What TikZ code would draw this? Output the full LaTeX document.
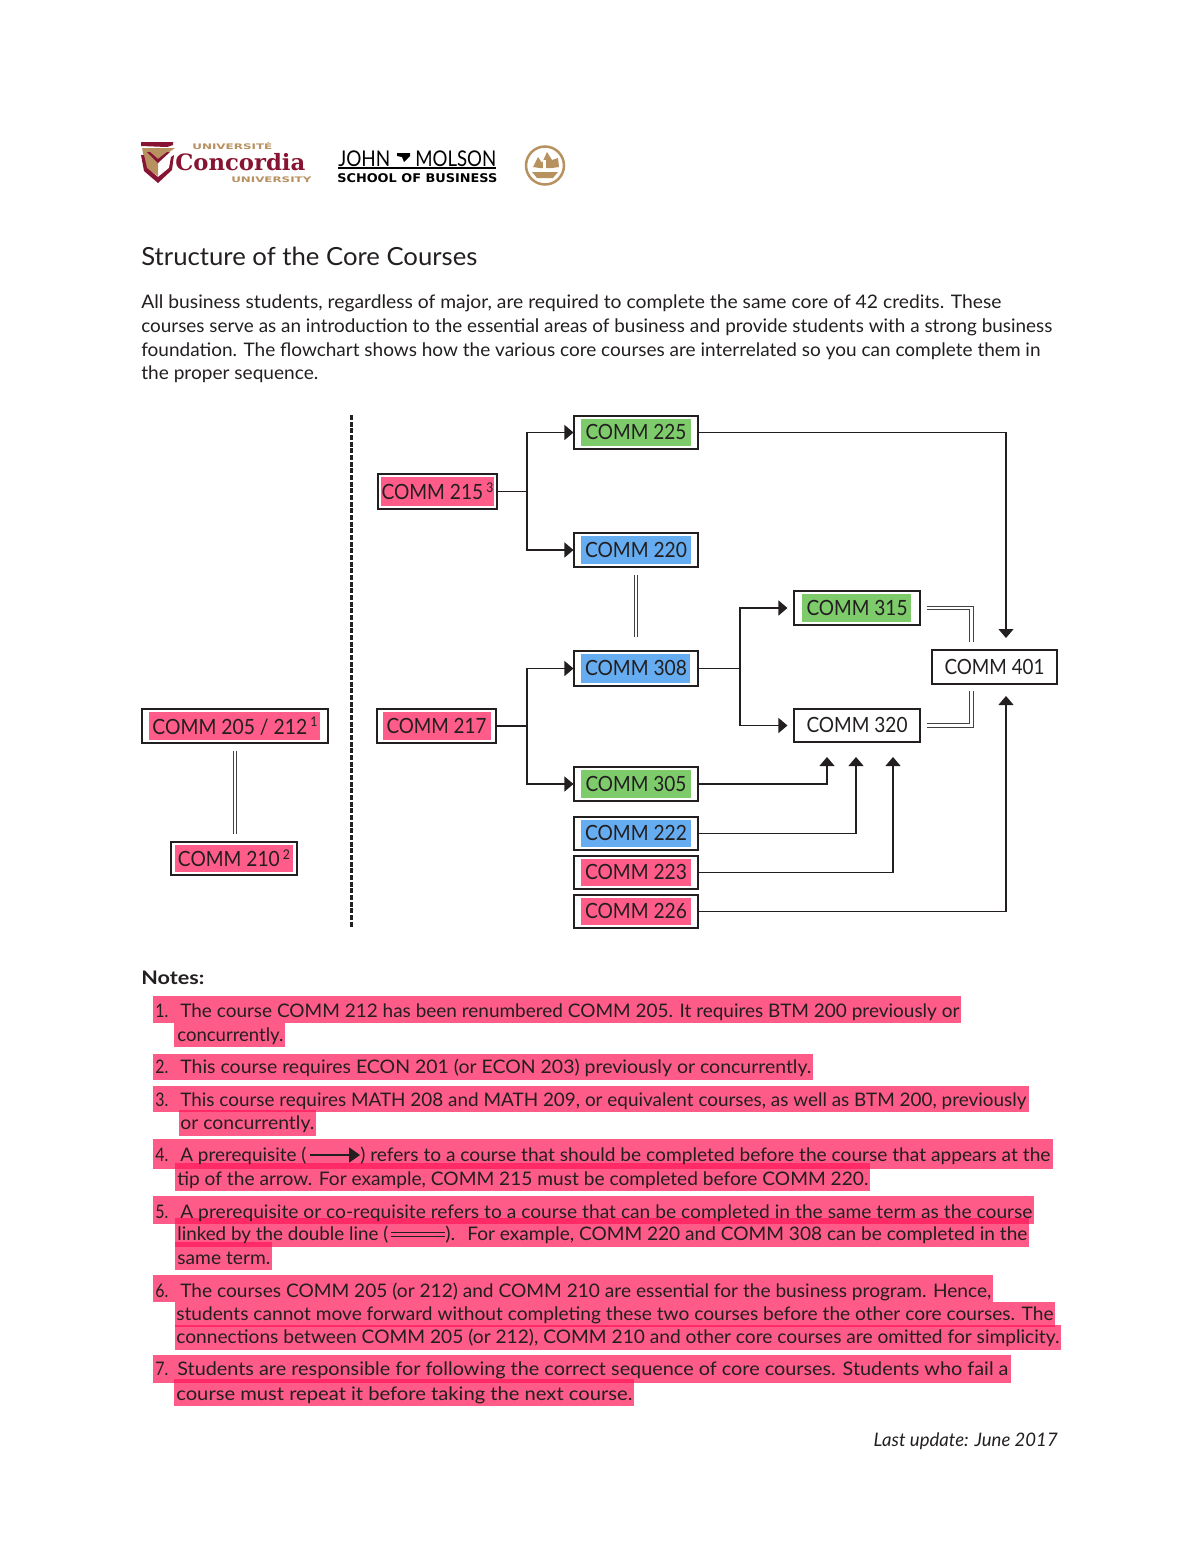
\documentclass[tikz,border=0pt]{standalone}
\usepackage{fontspec}
\usepackage{graphicx}
\setmainfont{Lato}
\newfontfamily\logoserif{DejaVu Serif}
\newfontfamily\logosans{DejaVu Sans}
\usetikzlibrary{arrows.meta}
\newdimen\pxu \pxu=0.6pt
\definecolor{hpink}{RGB}{255,92,138}
\definecolor{hmark}{RGB}{255,22,88}
\definecolor{hblue}{RGB}{101,173,240}
\definecolor{hgreen}{RGB}{125,203,106}
\definecolor{ink}{RGB}{35,31,32}
\definecolor{ctan}{RGB}{184,145,96}
\definecolor{cred}{RGB}{135,20,50}
\tikzset{
  crsbox/.style={draw=ink,line width=0.65pt,inner sep=0pt,text=ink,font=\fontsize{12.6}{14}\selectfont},
  conn/.style={draw=ink,line width=0.7pt},
  arr/.style={conn,-{Triangle[length=5.4pt,width=9pt]}},
  dbl/.style={draw=ink!85,line width=0.7pt,double=white,double distance=1.45pt},
  txt/.style={anchor=base west,inner sep=0pt,text=ink,font=\fontsize{11.2}{13}\selectfont},
  mk/.style={fill=hmark,fill opacity=0.7}
}
\newcommand{\crslabel}{}
\newcommand{\supn}[1]{\,\raisebox{0.75ex}{\fontsize{8}{9}\selectfont #1}}
% name, x1,y1,x2,y2, highlight x1,x2, colour, text width
\newcommand{\crs}[9]{%
  \pgfmathsetmacro{\cxx}{(#2+#4)/2}\pgfmathsetmacro{\cyy}{(#3+#5)/2}%
  \pgfmathsetmacro{\ww}{(#4-#2)*0.6}\pgfmathsetmacro{\hh}{(#5-#3)*0.6}%
  \fill[#8] (#6,#3+3) rectangle (#7,#5-3);
  \node[crsbox,minimum width=\ww pt,minimum height=\hh pt] (#1) at (\cxx,\cyy) {\raisebox{0.4pt}{\resizebox{#9\pxu}{\height}{\crslabel}}};}
\newcommand{\tl}[5]{\node[txt] (#1) at (#2,#3) {\resizebox{#4\pxu}{\height}{#5}};}
\begin{document}
\begin{tikzpicture}[x=0.6pt,y=-0.6pt]
\useasboundingbox (0,0) rectangle (1200,1553);
\fill[white] (0,0) rectangle (1200,1553);
% ---------- logos
\fill[cred] (141,142) -- (173,142) -- (173,145) -- (167,147) -- (141,146) -- cycle;
\fill[ctan] (142,148) -- (175,148) -- (158,160) -- (158,176) -- (146,168) -- cycle;
\fill[cred] (141,155) -- (144,155) -- (147,168) -- (158,177) -- (169,168) -- (171,157) -- (174,155) -- (172,170) -- (158,183) -- (144,171) -- cycle;
\fill[cred] (150,152) -- (158,159) -- (167,152) -- (170,152) -- (158,163) -- (147,152) -- cycle;
\node[anchor=base west,inner sep=0pt,text=cred] (lgc) at (175,170) {\resizebox{130\pxu}{\height}{\logoserif\fontsize{13.5}{15}\selectfont\bfseries Concordia}};
\node[anchor=base west,inner sep=0pt,text=ctan] (lgu) at (192,149) {\resizebox{80\pxu}{\height}{\logosans\fontsize{4.6}{6}\selectfont\bfseries UNIVERSITÉ}};
\node[anchor=base west,inner sep=0pt,text=ctan] (lgv) at (231,182) {\resizebox{80\pxu}{\height}{\logosans\fontsize{4.6}{6}\selectfont\bfseries UNIVERSITY}};
\node[anchor=base west,inner sep=0pt,text=black] (lgj) at (338,166) {\resizebox{52\pxu}{\height}{\fontsize{13}{15}\selectfont JOHN}};
\fill[black] (397,153) -- (410,153) -- (410,156) -- (404,162) -- (402,157) -- (397,156) -- cycle;
\node[anchor=base west,inner sep=0pt,text=black] (lgm) at (415,166) {\resizebox{81\pxu}{\height}{\fontsize{13}{15}\selectfont MOLSON}};
\draw[black,line width=0.8pt] (338,168) -- (496,168);
\node[anchor=base west,inner sep=0pt,text=black] (lgs) at (337,182) {\resizebox{160\pxu}{\height}{\logosans\fontsize{7.2}{9}\selectfont\bfseries SCHOOL OF BUSINESS}};
\draw[ctan,line width=1.5pt] (545,165.5) circle (19);
\fill[ctan] (532,172) -- (558,172) -- (553,178) -- (537,178) -- cycle;
\fill[ctan] (533,167) -- (538,157) -- (542,163) -- (547,152) -- (552,160) -- (558,158) -- (559,167) -- (552,168) -- (540,168) -- cycle;
\fill[white] (543,160) rectangle (546,172);
% ---------- heading and intro
\node[txt,font=\fontsize{15}{17}\selectfont] (ttl) at (141,265) {\resizebox{336\pxu}{\height}{Structure of the Core Courses}};
\tl{pa}{141}{308}{860}{All business students, regardless of major, are required to complete the same core of 42 credits. These}
\tl{pb}{141}{332}{911}{courses serve as an introduction to the essential areas of business and provide students with a strong business}
\tl{pc}{141}{356}{899}{foundation. The flowchart shows how the various core courses are interrelated so you can complete them in}
\tl{pd}{141}{379}{177}{the proper sequence.}
% ---------- divider
\draw[ink,line width=1.7pt,dash pattern=on 3pt off 1pt] (351.5,415) -- (351.5,927);
% ---------- course boxes
\renewcommand{\crslabel}{COMM 225}\crs{cc}{574}{416}{698}{449}{581}{691}{hgreen}{101}
\renewcommand{\crslabel}{COMM 215\supn{3}}\crs{cf}{378}{474}{497}{509}{381}{494}{hpink}{112}
\renewcommand{\crslabel}{COMM 220}\crs{cb}{574}{533}{698}{567}{581}{691}{hblue}{102}
\renewcommand{\crslabel}{COMM 315}\crs{di}{794}{591}{920}{625}{802}{911}{hgreen}{101}
\renewcommand{\crslabel}{COMM 308}\crs{dh}{574}{651}{698}{686}{581}{690}{hblue}{102}
\renewcommand{\crslabel}{COMM 401}\crs{fo}{932}{650}{1057}{684}{932}{932}{white}{100}
\renewcommand{\crslabel}{COMM 320}\crs{dt}{794}{709}{920}{742}{802}{802}{white}{101}
\renewcommand{\crslabel}{COMM 305}\crs{de}{574}{767}{698}{801}{581}{691}{hgreen}{101}
\renewcommand{\crslabel}{COMM 222}\crs{bb}{574}{817}{698}{850}{581}{691}{hblue}{102}
\renewcommand{\crslabel}{COMM 223}\crs{bc}{574}{856}{698}{889}{581}{691}{hpink}{102}
\renewcommand{\crslabel}{COMM 226}\crs{bf}{574}{895}{698}{928}{581}{691}{hpink}{102}
\renewcommand{\crslabel}{COMM 205 / 212\supn{1}}\crs{aa}{142}{709}{328}{743}{149}{320}{hpink}{165}
\renewcommand{\crslabel}{COMM 217}\crs{ag}{377}{709}{496}{743}{383}{491}{hpink}{100}
\renewcommand{\crslabel}{COMM 210\supn{2}}\crs{ab}{171}{842}{297}{875}{175}{293}{hpink}{112}
% ---------- connectors
\coordinate (j1) at (527,491.5);
\coordinate (j2) at (740,668.5);
\coordinate (j3) at (527,726);
\draw[conn] (cf.east) -- (j1);
\draw[arr] (j1) |- (cc.west);
\draw[arr] (j1) |- (cb.west);
\draw[conn] (dh.east) -- (j2);
\draw[arr,shorten >=3.6pt] (j2) |- (di.west);
\draw[arr,shorten >=3.6pt] (j2) |- (dt.west);
\draw[conn] (ag.east) -- (j3);
\draw[arr] (j3) |- (dh.west);
\draw[arr] (j3) |- (de.west);
\coordinate (t1) at (827,742);
\coordinate (t2) at (856,742);
\coordinate (t3) at (893,742);
\coordinate (t4) at (1006,684);
\coordinate (t5) at (1006,650);
\coordinate (d1) at (971.5,650);
\coordinate (d2) at (971.5,684);
\draw[arr,shorten >=9pt] (de.east) -| (t1);
\draw[arr,shorten >=9pt] (bb.east) -| (t2);
\draw[arr,shorten >=9pt] (bc.east) -| (t3);
\draw[arr,shorten >=7.2pt] (bf.east) -| (t4);
\draw[arr,shorten >=7.2pt] (cc.east) -| (t5);
\draw[dbl,shorten <=4.2pt,shorten >=7.8pt] (cb.south) -- (dh.north);
\draw[dbl,shorten <=4.5pt,shorten >=4.5pt] (aa.south) -- (aa.south |- ab.north);
\draw[dbl,shorten <=3.6pt,shorten >=4.8pt] (di.east) -| (d1);
\draw[dbl,shorten <=3.6pt,shorten >=4.2pt] (dt.east) -| (d2);
% ---------- notes highlights
\foreach \xa/\ya/\xb/\yb in {
 153/996/961/1023, 174/1023/285/1047,
 153/1054/813/1080,
 153/1086/1029/1112, 179/1110/316/1136,
 153/1139/1053/1169, 175/1163/870/1191,
 153/1196/1034/1224, 175/1218/1029/1247, 175/1242/272/1270,
 153/1275/993/1302, 175/1302/1055/1327, 175/1325/1061/1350,
 153/1355/1011/1383, 174/1379/634/1406}
 \fill[mk] (\xa,\ya) rectangle (\xb,\yb);
% ---------- notes text
\node[txt,font=\fontsize{11.2}{13}\selectfont\bfseries] (nh) at (141,984) {\resizebox{63\pxu}{\height}{Notes:}};
\tl{na}{155}{1017}{13}{1.}
\tl{nb}{180}{1017}{779}{The course COMM 212 has been renumbered COMM 205. It requires BTM 200 previously or}
\tl{nc}{177}{1041}{106}{concurrently.}
\tl{nd}{155}{1073}{13}{2.}
\tl{ne}{180}{1073}{631}{This course requires ECON 201 (or ECON 203) previously or concurrently.}
\tl{nf}{155}{1106}{13}{3.}
\tl{ng}{180}{1106}{846}{This course requires MATH 208 and MATH 209, or equivalent courses, as well as BTM 200, previously}
\tl{nh2}{180}{1129}{134}{or concurrently.}
\tl{ni}{155}{1161}{13}{4.}
\tl{nj}{180}{1161}{126}{A prerequisite (}
\coordinate (ia) at (310,1155);
\coordinate (ib) at (360,1155);
\draw[draw=ink,line width=0.8pt,-{Triangle[length=6.5pt,width=9pt]}] (ia) -- (ib);
\tl{nk}{360}{1161}{690}{) refers to a course that should be completed before the course that appears at the}
\tl{nl}{177}{1185}{691}{tip of the arrow. For example, COMM 215 must be completed before COMM 220.}
\tl{nm}{155}{1218}{13}{5.}
\tl{nn}{180}{1218}{852}{A prerequisite or co-requisite refers to a course that can be completed in the same term as the course}
\tl{no}{177}{1240}{211}{linked by the double line (}
\coordinate (ic) at (391,1234.5);
\coordinate (id) at (445,1234.5);
\draw[draw=ink,line width=0.7pt,double=hpink,double distance=1.3pt] (ic) -- (id);
\tl{np}{445}{1240}{10}{).}
\tl{nq}{467}{1240}{560}{For example, COMM 220 and COMM 308 can be completed in the}
\tl{nr}{177}{1264}{93}{same term.}
\tl{ns}{155}{1297}{13}{6.}
\tl{nt}{180}{1297}{811}{The courses COMM 205 (or 212) and COMM 210 are essential for the business program. Hence,}
\tl{nu}{176}{1320}{877}{students cannot move forward without completing these two courses before the other core courses. The}
\tl{nv}{176}{1343}{883}{connections between COMM 205 (or 212), COMM 210 and other core courses are omitted for simplicity.}
\tl{nw}{155}{1375}{13}{7.}
\tl{nx}{177}{1375}{831}{Students are responsible for following the correct sequence of core courses. Students who fail a}
\tl{ny}{176}{1400}{456}{course must repeat it before taking the next course.}
\node[anchor=base east,inner sep=0pt,text=ink,font=\fontsize{11.2}{13}\selectfont\itshape] (upd) at (1058,1446) {\resizebox{184\pxu}{\height}{Last update: June 2017}};
\end{tikzpicture}
\end{document}
